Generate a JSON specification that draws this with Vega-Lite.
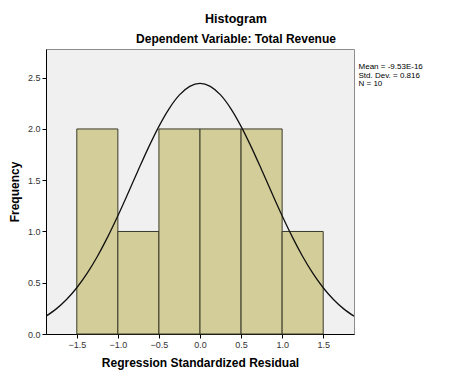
{
  "$schema": "https://vega.github.io/schema/vega-lite/v6.json",
  "autosize": "none",
  "width": 308,
  "height": 285,
  "padding": {"left": 46, "top": 49, "right": 120, "bottom": 45},
  "background": "white",
  "title": {
    "text": "Histogram",
    "subtitle": "Dependent Variable: Total Revenue",
    "anchor": "middle",
    "frame": "group",
    "dx": 36,
    "offset": 4,
    "font": "Liberation Sans",
    "fontSize": 12.5,
    "fontWeight": "bold",
    "color": "#000",
    "subtitleFont": "Liberation Sans",
    "subtitleFontSize": 12,
    "subtitleFontWeight": "bold",
    "subtitleColor": "#000",
    "subtitlePadding": 9
  },
  "config": {
    "view": {"fill": "#f0f0f0", "stroke": "#8c8c8c", "strokeWidth": 1},
    "axis": {
      "grid": false,
      "domainColor": "#000",
      "tickColor": "#000",
      "tickSize": 4,
      "labelFont": "Liberation Sans",
      "labelFontSize": 9,
      "labelColor": "#333",
      "titleFont": "Liberation Sans",
      "titleFontSize": 12,
      "titleFontWeight": "bold",
      "titleColor": "#000"
    }
  },
  "datasets": {
    "bins": [
      {"bin_start": -1.5, "bin_end": -1.0, "count": 2},
      {"bin_start": -1.0, "bin_end": -0.5, "count": 1},
      {"bin_start": -0.5, "bin_end": 0.0, "count": 2},
      {"bin_start": 0.0, "bin_end": 0.5, "count": 2},
      {"bin_start": 0.5, "bin_end": 1.0, "count": 2},
      {"bin_start": 1.0, "bin_end": 1.5, "count": 1}
    ],
    "curve": [
      {"x": -1.875, "density": 0.1744},
      {"x": -1.75, "density": 0.2451},
      {"x": -1.625, "density": 0.3365},
      {"x": -1.5, "density": 0.4511},
      {"x": -1.375, "density": 0.5909},
      {"x": -1.25, "density": 0.756},
      {"x": -1.125, "density": 0.9448},
      {"x": -1.0, "density": 1.1534},
      {"x": -0.875, "density": 1.3753},
      {"x": -0.75, "density": 1.6021},
      {"x": -0.625, "density": 1.8228},
      {"x": -0.5, "density": 2.0257},
      {"x": -0.375, "density": 2.1991},
      {"x": -0.25, "density": 2.332},
      {"x": -0.125, "density": 2.4155},
      {"x": 0.0, "density": 2.4445},
      {"x": 0.125, "density": 2.4155},
      {"x": 0.25, "density": 2.332},
      {"x": 0.375, "density": 2.1991},
      {"x": 0.5, "density": 2.0257},
      {"x": 0.625, "density": 1.8228},
      {"x": 0.75, "density": 1.6021},
      {"x": 0.875, "density": 1.3753},
      {"x": 1.0, "density": 1.1534},
      {"x": 1.125, "density": 0.9448},
      {"x": 1.25, "density": 0.756},
      {"x": 1.375, "density": 0.5909},
      {"x": 1.5, "density": 0.4511},
      {"x": 1.625, "density": 0.3365},
      {"x": 1.75, "density": 0.2451},
      {"x": 1.875, "density": 0.1744}
    ],
    "stats": [
      {"label": "Mean = -9.53E-16\nStd. Dev. = 0.816\nN = 10"}
    ]
  },
  "layer": [
    {
      "data": {"name": "bins"},
      "mark": {"type": "rect", "fill": "#d3cd99", "stroke": "#3a3a2a", "strokeWidth": 1},
      "encoding": {
        "x": {
          "field": "bin_start",
          "type": "quantitative",
          "scale": {"domain": [-1.875, 1.875], "nice": false, "zero": false},
          "axis": {
            "title": "Regression Standardized Residual",
            "values": [-1.5, -1.0, -0.5, 0, 0.5, 1.0, 1.5],
            "format": ".1f",
            "labelPadding": 2,
            "titlePadding": 8
          }
        },
        "x2": {"field": "bin_end"},
        "y": {
          "field": "count",
          "type": "quantitative",
          "scale": {"domain": [0, 2.78], "nice": false},
          "axis": {
            "title": "Frequency",
            "values": [0, 0.5, 1.0, 1.5, 2.0, 2.5],
            "format": ".1f",
            "labelPadding": 2,
            "titlePadding": 6
          }
        },
        "y2": {"datum": 0}
      }
    },
    {
      "data": {"name": "curve"},
      "mark": {"type": "line", "color": "#111", "strokeWidth": 1.3, "interpolate": "monotone", "clip": true},
      "encoding": {
        "x": {"field": "x", "type": "quantitative"},
        "y": {"field": "density", "type": "quantitative"}
      }
    },
    {
      "data": {"name": "stats"},
      "mark": {
        "type": "text",
        "align": "left",
        "baseline": "middle",
        "font": "Liberation Sans",
        "fontSize": 8,
        "lineHeight": 8.5,
        "color": "#000",
        "lineBreak": "\n",
        "clip": false
      },
      "encoding": {
        "x": {"datum": 1.93},
        "y": {"datum": 2.6},
        "text": {"field": "label"}
      }
    }
  ]
}
